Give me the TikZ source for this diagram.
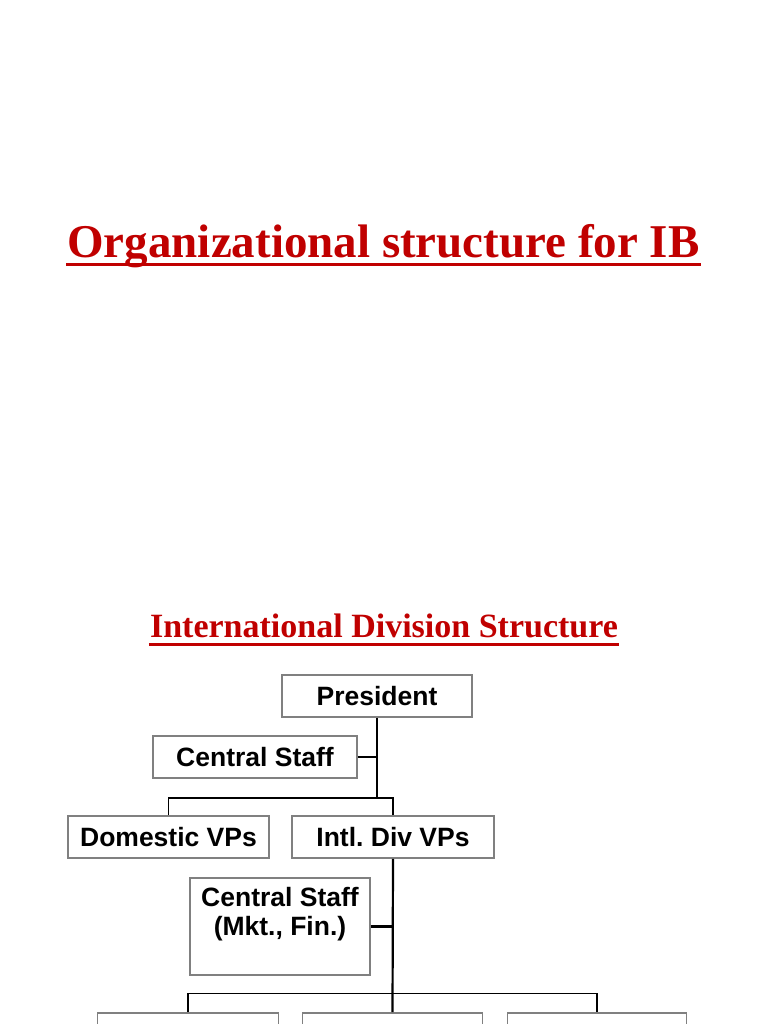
\documentclass[tikz,border=0pt]{standalone}
\usepackage{fontspec}
\setmainfont{Liberation Serif}
\newfontfamily\boxfont{Liberation Sans}
\definecolor{titlered}{RGB}{192,0,0}
\definecolor{boxgray}{RGB}{128,128,128}
\frenchspacing
\begin{document}
\begin{tikzpicture}[x=1pt,y=-1pt,
  box/.style={draw=boxgray, line width=1.5pt, fill=white, inner sep=0pt,
    font=\boxfont\bfseries\fontsize{26.5}{29}\selectfont},
  conn/.style={draw=black, line width=2.2pt},
  ttl/.style={text=titlered, inner sep=0pt, anchor=base},
  uline/.style={draw=titlered, line width=3pt}]
\useasboundingbox (0,0) rectangle (768,1024);
\clip (0,0) rectangle (768,1024);
% titles
\node[ttl, font=\bfseries\fontsize{47}{56}\selectfont] (title) at (383.5,257) {Organizational structure for IB};
\draw[uline] ([xshift=-1pt,yshift=-7.5pt]title.base west) -- ([xshift=1pt,yshift=-7.5pt]title.base east);
\node[ttl, font=\bfseries\fontsize{34}{40}\selectfont] (sub) at (384,637) {International Division Structure};
\draw[uline] ([xshift=-1pt,yshift=-7.5pt]sub.base west) -- ([xshift=1pt,yshift=-7.5pt]sub.base east);
% boxes
\node[box, minimum width=190pt, minimum height=42pt] (pres) at (377,696) {President};
\node[box, minimum width=204pt, minimum height=42pt] (cs1) at (255,757) {Central Staff};
\node[box, minimum width=201pt, minimum height=42pt] (dom) at (168.5,837) {Domestic VPs};
\node[box, minimum width=202pt, minimum height=42pt] (intl) at (393,837) {Intl. Div VPs};
\node[box, minimum width=180pt, minimum height=97pt] (cs2) at (280,926.5) {};
\node[anchor=north, align=center, inner sep=0pt, font=\boxfont\bfseries\fontsize{26.5}{29}\selectfont] (cs2t) at ([yshift=-10pt]cs2.north) {Central Staff\\(Mkt., Fin.)};
\node[box, minimum width=181pt, minimum height=60pt, anchor=north] (b1) at (188,1012) {};
\node[box, minimum width=180pt, minimum height=60pt, anchor=north] (b2) at (392.5,1012) {};
\node[box, minimum width=179pt, minimum height=60pt, anchor=north] (b3) at (597,1012) {};
% connectors
\coordinate (j1) at (377,798);
\draw[conn] (pres.south) -- (j1);
\draw[conn] (cs1.east) -- (cs1.east -| pres.south);
\draw[conn, line width=1.6pt] (dom.north) |- (j1) -| (intl.north);
\coordinate (j2) at (393,993.5);
\draw[conn] (intl.south) -- (b2.north);
\draw[conn] (cs2.east) -- (cs2.east -| intl.south);
\draw[conn, line width=1.6pt] (b1.north) |- (j2) -| (b3.north);
\end{tikzpicture}
\end{document}
